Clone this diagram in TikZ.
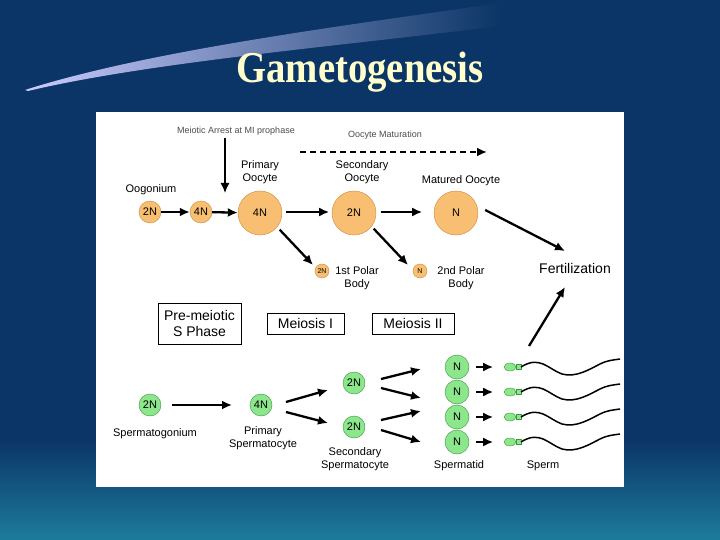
\documentclass[tikz,border=0pt]{standalone}
\usepackage{fontspec}
\setmainfont{Liberation Serif}
\newfontfamily\sans{Liberation Sans}
\usetikzlibrary{arrows.meta,shapes.geometric}
\definecolor{navy}{HTML}{0B3566}
\definecolor{teal}{HTML}{1C7C9C}
\definecolor{cream}{HTML}{FFFFCC}
\definecolor{ofill}{HTML}{F8BF72}
\definecolor{oline}{HTML}{C98A3E}
\definecolor{gfill}{HTML}{8CE68C}
\definecolor{gline}{HTML}{3C963C}
\begin{document}
\begin{tikzpicture}[x=1pt,y=-1pt,
  lbl/.style={font=\sans\fontsize{11}{12.5}\selectfont,align=center,inner sep=0},
  sm/.style={font=\sans\fontsize{9}{10}\selectfont,text=black!70,inner sep=0},
  ocell/.style={circle,draw=oline,fill=ofill,inner sep=0,font=\sans\fontsize{11}{11}\selectfont},
  gcell/.style={circle,draw=gline,fill=gfill,inner sep=0,minimum size=22pt,font=\sans\fontsize{11}{11}\selectfont},
  arr/.style={-{Latex[length=10pt,width=9pt]},line width=2.3pt},
  box/.style={draw,line width=1pt,font=\sans\fontsize{14}{16}\selectfont,align=center,inner sep=0,minimum height=21pt}]
\useasboundingbox (0,0) rectangle (720,540);
\fill[navy] (0,0) rectangle (720,440);
\shade[top color=navy,bottom color=teal] (0,440) rectangle (720,540);
% swoosh
\shade[left color=white!80!blue,right color=navy] (25,90) .. controls (150,50) and (350,25) .. (500,3) -- (500,26) .. controls (350,45) and (150,62) .. (28,91) -- cycle;
\node[font=\bfseries\fontsize{44}{44}\selectfont,text=cream,xscale=0.88] (title) at (360,72) {Gametogenesis};
\fill[white] (96,112) rectangle (624,487);
% oocyte
\node[sm] (mar) at (236,131) {Meiotic Arrest at MI prophase};
\node[sm] (omat) at (385,135) {Oocyte Maturation};
\coordinate (d1) at (300,152); \coordinate (d2) at (487,152);
\draw[arr,dash pattern=on 6pt off 4pt] (d1) -- (d2);
\node[lbl] at (260,172) {Primary\\Oocyte};
\node[lbl] at (362,172) {Secondary\\Oocyte};
\node[lbl] at (461,181) {Matured Oocyte};
\node[lbl] at (151,190) {Oogonium};
\node[ocell,minimum size=22pt] (o1) at (150,212) {2N};
\node[ocell,minimum size=22pt] (o2) at (201,212) {4N};
\node[ocell,minimum size=44pt] (o3) at (260,213) {4N};
\node[ocell,minimum size=44pt] (o4) at (354,213) {2N};
\node[ocell,minimum size=44pt] (o5) at (456,213) {N};
\node[ocell,minimum size=14pt,font=\sans\fontsize{7}{7}\selectfont] (p1) at (322,271) {2N};
\node[ocell,minimum size=14pt,font=\sans\fontsize{7}{7}\selectfont] (p2) at (420,271) {N};
\node[lbl] at (357,278) {1st Polar\\Body};
\node[lbl] at (461,278) {2nd Polar\\Body};
\node[lbl,font=\sans\fontsize{14}{14}\selectfont] (fert) at (575,268) {Fertilization};
\coordinate (ma) at (225,138);
\draw[arr,line width=1.4pt] (ma) -- (225,193);
\draw[arr] (o1) -- (o2);
\draw[arr] (o2) -- (o3);
\draw[arr] (o3.east) ++(4,-1) -- ++(43,0);
\draw[arr] (o4.east) ++(5,-1) -- ++(41,0);
\draw[arr] (o5.east) ++(7,-3) -- (565,251);
\draw[arr] (o3.south east) ++(4,1) -- (313,265);
\draw[arr] (o4.south east) ++(4,0) -- (408,265);
% boxes
\node[box,minimum width=83pt,minimum height=41pt] (b1) at (199.5,323.5) {Pre-meiotic\\S Phase};
\node[box,minimum width=77pt] (b2) at (305.5,323.5) {Meiosis I};
\node[box,minimum width=82pt] (b3) at (413,323.5) {Meiosis II};
% sperm
\node[gcell] (s1) at (150,405) {2N};
\node[gcell] (s2) at (261,405) {4N};
\node[gcell] (s3) at (354,383) {2N};
\node[gcell] (s4) at (354,427) {2N};
\foreach \i/\y in {1/367,2/392,3/417,4/442}{
  \node[gcell,minimum size=24pt] (t\i) at (457,\y) {N};
  \node[ellipse,draw=gline,fill=gfill,minimum width=12pt,minimum height=8pt,inner sep=0] (h\i) at (510,\y) {};
  \draw[gline,fill=gfill] (516,\y-2.5) rectangle (521,\y+2.5);
  \draw[line width=1.5pt] (521,\y) .. controls (540,\y-12) and (548,\y+2) .. (562,\y+7) .. controls (576,\y+11) and (590,\y+2) .. (600,\y-3) .. controls (608,\y-7) and (614,\y-7) .. (620,\y-8);
  \draw[arr] (t\i.east) ++(7,0) -- ++(17,0);
}
\draw[arr] (172,405) -- (232,405);
\draw[arr] (286,402) -- (328,390);
\draw[arr] (286,412) -- (328,423);
\draw[arr] (381,379) -- (421,369);
\draw[arr] (381,388) -- (421,398);
\draw[arr] (381,420) -- (421,411);
\draw[arr] (381,430) -- (421,442);
\coordinate (fs) at (529,346);
\draw[arr] (fs) -- (565,287);
\node[lbl] at (155,434) {Spermatogonium};
\node[lbl] at (263,438) {Primary\\Spermatocyte};
\node[lbl] at (355,459) {Secondary\\Spermatocyte};
\node[lbl] at (459,466) {Spermatid};
\node[lbl] at (543,466) {Sperm};
\end{tikzpicture}
\end{document}
